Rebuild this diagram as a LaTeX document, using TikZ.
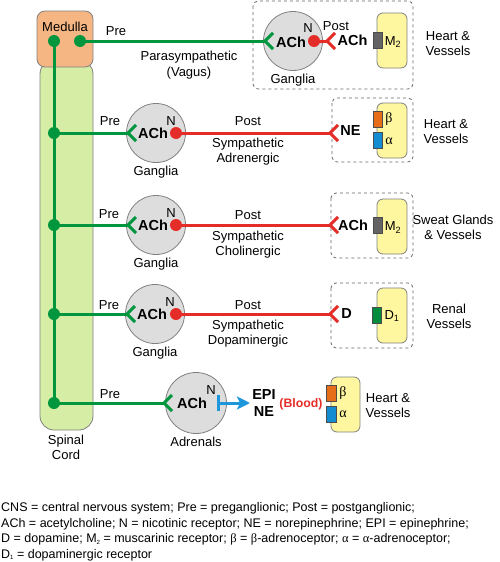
\documentclass[tikz,border=0pt]{standalone}
\usepackage{fontspec}
\setmainfont{Liberation Sans}
\newfontfamily\greekfont{Liberation Serif}
\usetikzlibrary{positioning,arrows.meta}

\definecolor{pregreen}{RGB}{0,150,62}
\definecolor{postred}{RGB}{228,45,40}
\definecolor{adrblue}{RGB}{30,150,220}
\definecolor{gangfill}{RGB}{221,221,221}
\definecolor{medorange}{RGB}{245,182,132}
\definecolor{cordgreen}{RGB}{214,237,166}
\definecolor{organyellow}{RGB}{255,247,160}
\definecolor{betaorange}{RGB}{230,110,25}
\definecolor{alphablue}{RGB}{20,140,210}
\definecolor{mgray}{RGB}{100,100,100}
\definecolor{dgreen}{RGB}{0,140,60}

\newcommand{\recfork}[2]{\draw [#2] (#1) ++(8,-8) -- (#1) -- ++(8,8);}
\newcommand{\gk}[1]{{\greekfont #1}}
\newcommand{\tinysub}[1]{\smash{\raisebox{-1.5pt}{\fontsize{6}{6}\selectfont #1}}}

\tikzset{
    lab/.style={font=\fontsize{13}{15}\selectfont, inner sep=0pt},
    nt/.style={font=\bfseries\fontsize{14.5}{16}\selectfont, inner sep=0pt},
    leg/.style={font=\fontsize{12.5}{15}\selectfont, inner sep=0pt, anchor=base west},
    ganglion/.style={circle, draw=black!50, fill=gangfill, line width=0.8pt, minimum size=59pt, inner sep=0pt},
    syndot/.style={circle, fill=#1, minimum size=12pt, inner sep=0pt},
    preline/.style={draw=pregreen, line width=3pt},
    postline/.style={draw=postred, line width=3pt},
    organ/.style={rectangle, rounded corners=6pt, draw=black!50, fill=organyellow, line width=0.8pt, minimum width=30pt, minimum height=55pt, inner sep=0pt},
    rec/.style={rectangle, draw=black!70, fill=#1, line width=0.6pt, minimum width=9pt, minimum height=16pt, inner sep=0pt},
    effbox/.style={draw=black!60, dashed, line width=0.8pt, rounded corners=5pt}
}

\begin{document}
\begin{tikzpicture}[x=1pt, y=-1pt]
    \useasboundingbox (0,0) rectangle (500,562);

    \draw [fill=cordgreen, draw=black!50, line width=0.8pt, rounded corners=14pt] (40,60) rectangle (93,430);
    \node [rectangle, rounded corners=8pt, draw=black!50, fill=medorange, line width=0.8pt, minimum width=56pt, minimum height=56pt] (medulla) at (65,39) {};
    \node [lab] (medlab) at (65,27) {Medulla};
    \node [lab, align=center] (cordlab) at (66,447.5) {Spinal\\Cord};

    \node [syndot=pregreen] (m1) at (54,41) {};
    \node [syndot=pregreen] (m2) at (80,41) {};
    \node [syndot=pregreen] (s2) at (54,133) {};
    \node [syndot=pregreen] (s3) at (54,225) {};
    \node [syndot=pregreen] (s4) at (54,314) {};
    \node [syndot=pregreen] (s5) at (54,403) {};
    \draw [preline] (m1.center) -- (s5.center);

    % parasympathetic
    \draw [effbox] (253,1) rectangle (413,89);
    \node [ganglion] (g1) at (293,41) {};
    \node [nt] (ach1) at (291,42) {ACh};
    \node [lab] (n1) at (308,28) {N};
    \node [syndot=postred] (r1) at (314,41) {};
    \node [lab, below=3pt of g1] (gl1) {Ganglia};
    \node [lab] (pre1) at (116,31) {Pre};
    \node [lab] (post1) at (336,26) {Post};
    \node [lab, align=center] (para) at (189,65) {Parasympathetic\\[1pt](Vagus)};
    \coordinate (f1) at (265,41);
    \coordinate (t1) at (327,41);
    \draw [preline] (m2.center) -- (f1);
    \recfork{f1}{preline}
    \draw [postline] (r1.center) -- (t1);
    \recfork{t1}{postline}
    \node [nt] (nt1) at (352.5,40) {ACh};
    \node [organ] (organ1) at (392,40.5) {};
    \node [rec=mgray] (mr1) at (377.5,40) {};
    \node [lab] (mlab1) at (393,42) {M\textsubscript{2}};
    \node [lab, align=center] (tgt1) at (448,43.5) {Heart \&\\Vessels};

    % adrenergic
    \draw [effbox] (332,98) rectangle (413,162);
    \node [ganglion] (g2) at (156,133) {};
    \node [nt] (ach2) at (153,133) {ACh};
    \node [lab] (n2) at (171,121) {N};
    \node [syndot=postred] (r2) at (176,133) {};
    \node [lab, below=3pt of g2] (gl2) {Ganglia};
    \node [lab] (pre2) at (110,121) {Pre};
    \node [lab] (post2) at (248,121) {Post};
    \node [lab, align=center] (sym2) at (248,151.5) {Sympathetic\\Adrenergic};
    \coordinate (f2) at (128,133);
    \coordinate (t2) at (330,133);
    \draw [preline] (s2.center) -- (f2);
    \recfork{f2}{preline}
    \draw [postline] (r2.center) -- (t2);
    \recfork{t2}{postline}
    \node [nt] (nt2) at (350.5,131) {NE};
    \node [organ] (organ2) at (392,130.5) {};
    \node [rec=betaorange] (br2) at (377.5,119.5) {};
    \node [rec=alphablue] (ar2) at (377.5,140.5) {};
    \node [lab, font=\fontsize{14}{15}\selectfont] (blab2) at (389,119) {\gk{β}};
    \node [lab, font=\fontsize{14}{15}\selectfont] (alab2) at (389,141) {\gk{α}};
    \node [lab, align=center] (tgt2) at (446,131.5) {Heart \&\\Vessels};

    % cholinergic
    \draw [effbox] (331,193) rectangle (413,258);
    \node [ganglion] (g3) at (156,225) {};
    \node [nt] (ach3) at (153,225) {ACh};
    \node [lab] (n3) at (171,213) {N};
    \node [syndot=postred] (r3) at (176,225) {};
    \node [lab, below=3pt of g3] (gl3) {Ganglia};
    \node [lab] (pre3) at (109,214) {Pre};
    \node [lab] (post3) at (248,215) {Post};
    \node [lab, align=center] (sym3) at (248,244.5) {Sympathetic\\Cholinergic};
    \coordinate (f3) at (128,225);
    \coordinate (t3) at (330,225);
    \draw [preline] (s3.center) -- (f3);
    \recfork{f3}{preline}
    \draw [postline] (r3.center) -- (t3);
    \recfork{t3}{postline}
    \node [nt] (nt3) at (353,225) {ACh};
    \node [organ] (organ3) at (392,226.5) {};
    \node [rec=mgray] (mr3) at (377.5,225.5) {};
    \node [lab] (mlab3) at (393,227.5) {M\textsubscript{2}};
    \node [lab, align=center] (tgt3) at (453,227.5) {Sweat Glands\\\& Vessels};

    % dopaminergic
    \draw [effbox] (331,283) rectangle (413,348);
    \node [ganglion] (g4) at (155,314) {};
    \node [nt] (ach4) at (152,314) {ACh};
    \node [lab] (n4) at (170,302) {N};
    \node [syndot=postred] (r4) at (176,314) {};
    \node [lab, below=3pt of g4] (gl4) {Ganglia};
    \node [lab] (pre4) at (109,305) {Pre};
    \node [lab] (post4) at (248,305) {Post};
    \node [lab, align=center] (sym4) at (248,333.5) {Sympathetic\\Dopaminergic};
    \coordinate (f4) at (127,314);
    \coordinate (t4) at (330,314);
    \draw [preline] (s4.center) -- (f4);
    \recfork{f4}{preline}
    \draw [postline] (r4.center) -- (t4);
    \recfork{t4}{postline}
    \node [nt] (nt4) at (346.5,314) {D};
    \node [organ] (organ4) at (392,315.5) {};
    \node [rec=dgreen] (dr4) at (377,315.5) {};
    \node [lab] (dlab4) at (392,316) {D\textsubscript{1}};
    \node [lab, align=center] (tgt4) at (449,316.5) {Renal\\Vessels};

    % adrenal medulla
    \node [ganglion, minimum size=61pt] (g5) at (196,403) {};
    \node [nt] (ach5) at (192,403) {ACh};
    \node [lab] (n5) at (211,390) {N};
    \node [lab, below=3pt of g5] (gl5) {Adrenals};
    \node [lab] (pre5) at (110,394) {Pre};
    \coordinate (f5) at (164,403);
    \draw [preline] (s5.center) -- (f5);
    \recfork{f5}{preline}
    \coordinate (bar5) at (217,403);
    \coordinate (tip5) at (250,403);
    \draw [draw=adrblue, line width=3pt, {Bar[width=16pt]}-{Stealth[length=13pt, width=13pt, inset=3pt]}] (bar5) -- (tip5);
    \node [nt] (epi5) at (264,395) {EPI};
    \node [nt] (ne5) at (264,412) {NE};
    \node [font=\bfseries\fontsize{12.3}{14}\selectfont, text=postred, inner sep=0pt] (blood5) at (301,404) {(Blood)};
    \node [organ, minimum width=29pt] (organ5) at (345.5,404.5) {};
    \node [rec=betaorange, minimum width=10pt] (br5) at (331,393) {};
    \node [rec=alphablue, minimum width=10pt] (ar5) at (331,414.5) {};
    \node [lab, font=\fontsize{14}{15}\selectfont] (blab5) at (343,393.5) {\gk{β}};
    \node [lab, font=\fontsize{14}{15}\selectfont] (alab5) at (343,414.5) {\gk{α}};
    \node [lab, align=center] (tgt5) at (388,406) {Heart \&\\Vessels};

    \node [leg] (leg1) at (1,511.5) {CNS = central nervous system; Pre = preganglionic; Post = postganglionic;};
    \node [leg] (leg2) at (1,527) {ACh = acetylcholine; N = nicotinic receptor; NE = norepinephrine; EPI = epinephrine;};
    \node [leg] (leg3) at (1,542.5) {D = dopamine; M\tinysub{2} = muscarinic receptor; \gk{β} = \gk{β}-adrenoceptor; \gk{α} = \gk{α}-adrenoceptor;};
    \node [leg] (leg4) at (1,558) {D\tinysub{1} = dopaminergic receptor};
\end{tikzpicture}
\end{document}
